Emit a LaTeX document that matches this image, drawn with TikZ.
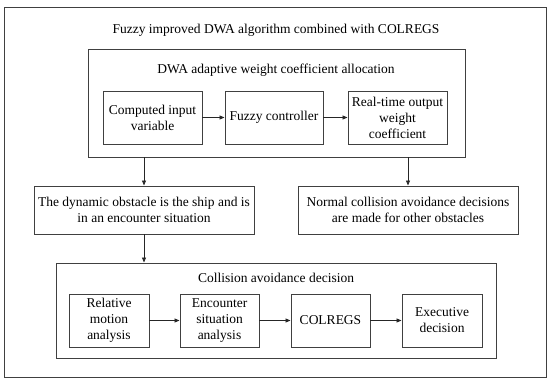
\documentclass[tikz,border=0pt]{standalone}
\usepackage{fontspec}
\setmainfont{Liberation Serif}
\usetikzlibrary{arrows.meta}
\tikzset{
  box/.style={draw=black!75, line width=0.9pt, inner sep=0pt, align=center},
  lbl/.style={inner sep=0pt, align=center},
  arr/.style={draw=black!85, line width=0.8pt, -{Triangle[length=5pt,width=4pt]}},
}
\begin{document}
\begin{tikzpicture}[x=1pt,y=-1pt, font=\fontsize{13.5}{16}\selectfont]
\useasboundingbox (0,0) rectangle (550,380);
% outer frame
\node[box, minimum width=542pt, minimum height=370pt] (outer) at (275,192) {};
\node[lbl] (title) at (276,30) {Fuzzy improved DWA algorithm combined with COLREGS};
% DWA block
\node[box, minimum width=377pt, minimum height=108pt] (dwa) at (276.5,103) {};
\node[lbl] (dwalbl) at (276,70) {DWA adaptive weight coefficient allocation};
\node[box, minimum width=99pt, minimum height=53pt] (inp) at (152.5,117.5) {Computed input\\variable};
\node[box, minimum width=98pt, minimum height=53pt] (fuz) at (274,117.5) {Fuzzy controller};
\node[box, minimum width=99pt, minimum height=53pt] (rto) at (397.5,117.5) {Real-time output\\weight\\coefficient};
\draw[arr] (inp.east) -- (fuz.west);
\draw[arr] (fuz.east) -- (rto.west);
% middle boxes
\node[box, minimum width=220pt, minimum height=48pt] (dyn) at (144,210) {The dynamic obstacle is the ship and is\\in an encounter situation};
\node[box, minimum width=220pt, minimum height=48pt] (nor) at (408,210) {Normal collision avoidance decisions\\are made for other obstacles};
\draw[arr] (dwa.south -| dyn.north) -- (dyn.north);
\draw[arr] (dwa.south -| nor.north) -- (nor.north);
% collision block
\node[box, minimum width=440pt, minimum height=95pt] (col) at (276,310.5) {};
\node[lbl] (collbl) at (276,278) {Collision avoidance decision};
\draw[arr] (dyn.south) -- (dyn.south |- col.north);
\node[box, minimum width=80pt, minimum height=53pt] (rel) at (109,320.5) {Relative\\motion\\analysis};
\node[box, minimum width=79pt, minimum height=53pt] (enc) at (219.5,320.5) {Encounter\\situation\\analysis};
\node[box, minimum width=79pt, minimum height=53pt] (colr) at (330.5,320.5) {COLREGS};
\node[box, minimum width=80pt, minimum height=53pt] (exe) at (442,320.5) {Executive\\decision};
\draw[arr] (rel.east) -- (enc.west);
\draw[arr] (enc.east) -- (colr.west);
\draw[arr] (colr.east) -- (exe.west);
\end{tikzpicture}
\end{document}
